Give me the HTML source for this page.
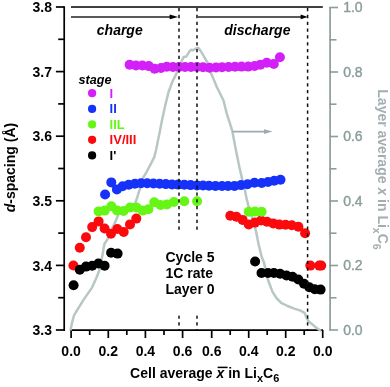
<!DOCTYPE html>
<html><head><meta charset="utf-8"><style>
html,body{margin:0;padding:0;background:#fff;width:390px;height:387px;overflow:hidden}
svg{display:block}
text{font-family:'Liberation Sans', Arial, Helvetica, sans-serif}
</style></head><body>
<svg width="390" height="387" viewBox="0 0 390 387">
<line x1="64.2" y1="6.2" x2="64.2" y2="330.9" stroke="#000" stroke-width="1.7"/>
<line x1="55.9" y1="7.0" x2="64.1" y2="7.0" stroke="#000" stroke-width="1.7"/>
<line x1="58.2" y1="39.3" x2="64.1" y2="39.3" stroke="#000" stroke-width="1.7"/>
<line x1="55.9" y1="71.6" x2="64.1" y2="71.6" stroke="#000" stroke-width="1.7"/>
<line x1="58.2" y1="103.9" x2="64.1" y2="103.9" stroke="#000" stroke-width="1.7"/>
<line x1="55.9" y1="136.2" x2="64.1" y2="136.2" stroke="#000" stroke-width="1.7"/>
<line x1="58.2" y1="168.5" x2="64.1" y2="168.5" stroke="#000" stroke-width="1.7"/>
<line x1="55.9" y1="200.8" x2="64.1" y2="200.8" stroke="#000" stroke-width="1.7"/>
<line x1="58.2" y1="233.1" x2="64.1" y2="233.1" stroke="#000" stroke-width="1.7"/>
<line x1="55.9" y1="265.4" x2="64.1" y2="265.4" stroke="#000" stroke-width="1.7"/>
<line x1="58.2" y1="297.7" x2="64.1" y2="297.7" stroke="#000" stroke-width="1.7"/>
<line x1="55.9" y1="330.0" x2="64.1" y2="330.0" stroke="#000" stroke-width="1.7"/>
<text transform="translate(52,12.10) scale(0.96,1)" text-anchor="end" font-size="14.6" font-weight="bold">3.8</text>
<text transform="translate(52,76.70) scale(0.96,1)" text-anchor="end" font-size="14.6" font-weight="bold">3.7</text>
<text transform="translate(52,141.30) scale(0.96,1)" text-anchor="end" font-size="14.6" font-weight="bold">3.6</text>
<text transform="translate(52,205.90) scale(0.96,1)" text-anchor="end" font-size="14.6" font-weight="bold">3.5</text>
<text transform="translate(52,270.50) scale(0.96,1)" text-anchor="end" font-size="14.6" font-weight="bold">3.4</text>
<text transform="translate(52,335.10) scale(0.96,1)" text-anchor="end" font-size="14.6" font-weight="bold">3.3</text>
<line x1="71" y1="7" x2="322.8" y2="7" stroke="#000" stroke-width="1.7"/>
<line x1="70" y1="330.2" x2="323" y2="330.2" stroke="#000" stroke-width="1.8"/>
<line x1="71.1" y1="330" x2="71.1" y2="338.0" stroke="#000" stroke-width="1.7"/>
<line x1="89.7" y1="330" x2="89.7" y2="335.0" stroke="#000" stroke-width="1.7"/>
<line x1="108.3" y1="330" x2="108.3" y2="338.0" stroke="#000" stroke-width="1.7"/>
<line x1="126.8" y1="330" x2="126.8" y2="335.0" stroke="#000" stroke-width="1.7"/>
<line x1="145.4" y1="330" x2="145.4" y2="338.0" stroke="#000" stroke-width="1.7"/>
<line x1="164.0" y1="330" x2="164.0" y2="335.0" stroke="#000" stroke-width="1.7"/>
<line x1="182.6" y1="330" x2="182.6" y2="338.0" stroke="#000" stroke-width="1.7"/>
<line x1="322.7" y1="330" x2="322.7" y2="338.0" stroke="#000" stroke-width="1.7"/>
<line x1="304.2" y1="330" x2="304.2" y2="335.0" stroke="#000" stroke-width="1.7"/>
<line x1="285.7" y1="330" x2="285.7" y2="338.0" stroke="#000" stroke-width="1.7"/>
<line x1="267.2" y1="330" x2="267.2" y2="335.0" stroke="#000" stroke-width="1.7"/>
<line x1="248.7" y1="330" x2="248.7" y2="338.0" stroke="#000" stroke-width="1.7"/>
<line x1="230.2" y1="330" x2="230.2" y2="335.0" stroke="#000" stroke-width="1.7"/>
<line x1="211.7" y1="330" x2="211.7" y2="338.0" stroke="#000" stroke-width="1.7"/>
<text transform="translate(71.10,356.30) scale(0.96,1)" text-anchor="middle" font-size="14.6" font-weight="bold">0.0</text>
<text transform="translate(322.70,356.30) scale(0.96,1)" text-anchor="middle" font-size="14.6" font-weight="bold">0.0</text>
<text transform="translate(108.26,356.30) scale(0.96,1)" text-anchor="middle" font-size="14.6" font-weight="bold">0.2</text>
<text transform="translate(285.70,356.30) scale(0.96,1)" text-anchor="middle" font-size="14.6" font-weight="bold">0.2</text>
<text transform="translate(145.42,356.30) scale(0.96,1)" text-anchor="middle" font-size="14.6" font-weight="bold">0.4</text>
<text transform="translate(248.70,356.30) scale(0.96,1)" text-anchor="middle" font-size="14.6" font-weight="bold">0.4</text>
<text transform="translate(182.58,356.30) scale(0.96,1)" text-anchor="middle" font-size="14.6" font-weight="bold">0.6</text>
<text transform="translate(211.70,356.30) scale(0.96,1)" text-anchor="middle" font-size="14.6" font-weight="bold">0.6</text>
<line x1="330.1" y1="6.9" x2="330.1" y2="330.8" stroke="#8e9c9c" stroke-width="1.7"/>
<line x1="329.3" y1="7.5" x2="338.0" y2="7.5" stroke="#8e9c9c" stroke-width="1.6"/>
<line x1="329.3" y1="39.8" x2="336.5" y2="39.8" stroke="#8e9c9c" stroke-width="1.6"/>
<line x1="329.3" y1="72.0" x2="338.0" y2="72.0" stroke="#8e9c9c" stroke-width="1.6"/>
<line x1="329.3" y1="104.2" x2="336.5" y2="104.2" stroke="#8e9c9c" stroke-width="1.6"/>
<line x1="329.3" y1="136.5" x2="338.0" y2="136.5" stroke="#8e9c9c" stroke-width="1.6"/>
<line x1="329.3" y1="168.8" x2="336.5" y2="168.8" stroke="#8e9c9c" stroke-width="1.6"/>
<line x1="329.3" y1="201.0" x2="338.0" y2="201.0" stroke="#8e9c9c" stroke-width="1.6"/>
<line x1="329.3" y1="233.2" x2="336.5" y2="233.2" stroke="#8e9c9c" stroke-width="1.6"/>
<line x1="329.3" y1="265.5" x2="338.0" y2="265.5" stroke="#8e9c9c" stroke-width="1.6"/>
<line x1="329.3" y1="297.8" x2="336.5" y2="297.8" stroke="#8e9c9c" stroke-width="1.6"/>
<line x1="329.3" y1="330.0" x2="338.0" y2="330.0" stroke="#8e9c9c" stroke-width="1.6"/>
<text x="343.2" y="12.4" font-size="14" fill="#8c9c9c" stroke="#8c9c9c" stroke-width="0.4">1.0</text>
<text x="343.2" y="76.9" font-size="14" fill="#8c9c9c" stroke="#8c9c9c" stroke-width="0.4">0.8</text>
<text x="343.2" y="141.4" font-size="14" fill="#8c9c9c" stroke="#8c9c9c" stroke-width="0.4">0.6</text>
<text x="343.2" y="205.9" font-size="14" fill="#8c9c9c" stroke="#8c9c9c" stroke-width="0.4">0.4</text>
<text x="343.2" y="270.4" font-size="14" fill="#8c9c9c" stroke="#8c9c9c" stroke-width="0.4">0.2</text>
<text x="343.2" y="334.9" font-size="14" fill="#8c9c9c" stroke="#8c9c9c" stroke-width="0.4">0.0</text>
<polyline fill="none" stroke="#b8c7c6" stroke-width="2.5" stroke-linejoin="round" points="70.4,330.5 72.0,322.9 73.9,315.7 76.0,312.0 83.2,300.4 92.0,287.6 96.3,278.0 99.3,270.5 101.8,258.5 102.9,253.0 103.7,247.6 104.5,243.8 107.6,239.1 110.8,231.5 114.5,223.6 117.6,216.6 119.2,212.8 127.0,208.0 135.2,203.5 137.7,195.8 139.7,189.4 142.4,179.2 146.5,172.0 150.7,164.1 154.3,157.0 156.1,149.8 157.9,140.7 160.0,130.7 162.0,120.3 164.0,111.0 165.6,103.9 168.5,92.3 172.4,81.6 176.3,73.9 179.2,66.5 181.7,61.0 183.8,56.9 186.4,56.4 188.9,52.3 191.0,49.7 193.0,50.3 195.6,48.7 198.2,47.7 200.2,50.3 202.8,54.4 205.3,59.0 207.4,62.5 209.2,69.0 212.1,75.8 215.0,82.6 216.7,86.8 223.4,100.2 226.8,113.6 231.2,127.3 232.4,131.6 235.5,148.0 239.4,167.2 242.5,180.6 244.6,188.1 246.3,197.4 248.4,205.6 255.6,229.3 258.7,244.8 261.8,257.2 264.0,262.5 267.6,278.8 270.0,285.2 272.4,291.6 276.4,298.0 281.2,302.8 287.6,306.0 294.2,308.6 300.4,310.6 304.6,312.9 306.0,316.4 308.4,321.2 312.4,324.4 316.4,327.9 319.6,330.0 321.2,330.8"/>
<line x1="232.4" y1="131.6" x2="266" y2="131.6" stroke="#9eaab2" stroke-width="1.6"/>
<polygon points="264,129.2 272.6,131.6 264,134" fill="#9eaab2"/>
<circle cx="73.4" cy="265.5" r="5.00" fill="#fa0a0c"/>
<circle cx="79.8" cy="247.8" r="5.00" fill="#fa0a0c"/>
<circle cx="86.0" cy="237.2" r="5.00" fill="#fa0a0c"/>
<circle cx="92.2" cy="227.1" r="5.00" fill="#fa0a0c"/>
<circle cx="98.6" cy="221.4" r="5.00" fill="#fa0a0c"/>
<circle cx="104.6" cy="228.5" r="5.00" fill="#fa0a0c"/>
<circle cx="111.0" cy="233.7" r="5.00" fill="#fa0a0c"/>
<circle cx="117.3" cy="229.0" r="5.00" fill="#fa0a0c"/>
<circle cx="123.7" cy="231.9" r="5.00" fill="#fa0a0c"/>
<circle cx="130.0" cy="224.4" r="5.00" fill="#fa0a0c"/>
<circle cx="136.3" cy="218.6" r="5.00" fill="#fa0a0c"/>
<circle cx="230.3" cy="215.8" r="5.00" fill="#fa0a0c"/>
<circle cx="236.4" cy="216.8" r="5.00" fill="#fa0a0c"/>
<circle cx="242.6" cy="219.9" r="5.00" fill="#fa0a0c"/>
<circle cx="248.7" cy="224.5" r="5.00" fill="#fa0a0c"/>
<circle cx="254.9" cy="222.6" r="5.00" fill="#fa0a0c"/>
<circle cx="261.0" cy="220.5" r="5.00" fill="#fa0a0c"/>
<circle cx="267.0" cy="221.8" r="5.00" fill="#fa0a0c"/>
<circle cx="273.2" cy="223.4" r="5.00" fill="#fa0a0c"/>
<circle cx="279.4" cy="224.6" r="5.00" fill="#fa0a0c"/>
<circle cx="285.6" cy="224.8" r="5.00" fill="#fa0a0c"/>
<circle cx="291.8" cy="225.3" r="5.00" fill="#fa0a0c"/>
<circle cx="298.4" cy="226.8" r="5.00" fill="#fa0a0c"/>
<circle cx="305.1" cy="233.2" r="5.00" fill="#fa0a0c"/>
<circle cx="310.3" cy="265.6" r="5.00" fill="#fa0a0c"/>
<circle cx="319.3" cy="265.6" r="5.00" fill="#fa0a0c"/>
<circle cx="321.2" cy="265.6" r="5.00" fill="#fa0a0c"/>
<circle cx="98.6" cy="211.4" r="5.00" fill="#66f616"/>
<circle cx="104.7" cy="210.6" r="5.00" fill="#66f616"/>
<circle cx="111.4" cy="206.3" r="5.00" fill="#66f616"/>
<circle cx="117.0" cy="210.4" r="5.00" fill="#66f616"/>
<circle cx="123.6" cy="211.0" r="5.00" fill="#66f616"/>
<circle cx="130.2" cy="207.4" r="5.00" fill="#66f616"/>
<circle cx="136.4" cy="207.4" r="5.00" fill="#66f616"/>
<circle cx="142.5" cy="210.6" r="5.00" fill="#66f616"/>
<circle cx="148.4" cy="209.2" r="5.00" fill="#66f616"/>
<circle cx="154.3" cy="202.2" r="5.00" fill="#66f616"/>
<circle cx="160.5" cy="205.0" r="5.00" fill="#66f616"/>
<circle cx="166.9" cy="204.4" r="5.00" fill="#66f616"/>
<circle cx="173.9" cy="202.0" r="5.00" fill="#66f616"/>
<circle cx="184.3" cy="201.2" r="5.00" fill="#66f616"/>
<circle cx="197.1" cy="201.3" r="5.00" fill="#66f616"/>
<circle cx="248.7" cy="211.7" r="5.00" fill="#66f616"/>
<circle cx="255.1" cy="211.6" r="5.00" fill="#66f616"/>
<circle cx="261.6" cy="211.7" r="5.00" fill="#66f616"/>
<circle cx="73.6" cy="285.3" r="5.00" fill="#000"/>
<circle cx="79.8" cy="269.7" r="5.00" fill="#000"/>
<circle cx="86.0" cy="266.6" r="5.00" fill="#000"/>
<circle cx="92.2" cy="265.8" r="5.00" fill="#000"/>
<circle cx="98.4" cy="263.5" r="5.00" fill="#000"/>
<circle cx="104.6" cy="265.8" r="5.00" fill="#000"/>
<circle cx="111.1" cy="252.7" r="5.00" fill="#000"/>
<circle cx="117.6" cy="253.6" r="5.00" fill="#000"/>
<circle cx="255.1" cy="261.5" r="5.00" fill="#000"/>
<circle cx="261.5" cy="273.0" r="5.00" fill="#000"/>
<circle cx="268.0" cy="273.0" r="5.00" fill="#000"/>
<circle cx="273.9" cy="273.0" r="5.00" fill="#000"/>
<circle cx="280.1" cy="273.7" r="5.00" fill="#000"/>
<circle cx="286.5" cy="275.5" r="5.00" fill="#000"/>
<circle cx="292.5" cy="276.8" r="5.00" fill="#000"/>
<circle cx="298.3" cy="279.5" r="5.00" fill="#000"/>
<circle cx="304.0" cy="283.8" r="5.00" fill="#000"/>
<circle cx="309.3" cy="287.3" r="5.00" fill="#000"/>
<circle cx="314.8" cy="289.2" r="5.00" fill="#000"/>
<circle cx="320.6" cy="289.6" r="5.00" fill="#000"/>
<circle cx="105.1" cy="194.5" r="5.00" fill="#1632f9"/>
<circle cx="111.3" cy="182.4" r="5.00" fill="#1632f9"/>
<circle cx="116.9" cy="189.4" r="5.00" fill="#1632f9"/>
<circle cx="122.6" cy="186.3" r="5.00" fill="#1632f9"/>
<circle cx="128.7" cy="184.7" r="5.00" fill="#1632f9"/>
<circle cx="134.9" cy="183.7" r="5.00" fill="#1632f9"/>
<circle cx="141.0" cy="183.3" r="5.00" fill="#1632f9"/>
<circle cx="147.2" cy="183.3" r="5.00" fill="#1632f9"/>
<circle cx="153.4" cy="183.5" r="5.00" fill="#1632f9"/>
<circle cx="159.6" cy="183.8" r="5.00" fill="#1632f9"/>
<circle cx="165.8" cy="184.1" r="5.00" fill="#1632f9"/>
<circle cx="172.0" cy="184.4" r="5.00" fill="#1632f9"/>
<circle cx="178.2" cy="184.6" r="5.00" fill="#1632f9"/>
<circle cx="184.4" cy="184.8" r="5.00" fill="#1632f9"/>
<circle cx="190.6" cy="185.1" r="5.00" fill="#1632f9"/>
<circle cx="197.0" cy="185.4" r="5.00" fill="#1632f9"/>
<circle cx="203.0" cy="185.5" r="5.00" fill="#1632f9"/>
<circle cx="209.0" cy="185.8" r="5.00" fill="#1632f9"/>
<circle cx="215.5" cy="185.9" r="5.00" fill="#1632f9"/>
<circle cx="222.0" cy="186.0" r="5.00" fill="#1632f9"/>
<circle cx="228.0" cy="186.0" r="5.00" fill="#1632f9"/>
<circle cx="234.5" cy="185.9" r="5.00" fill="#1632f9"/>
<circle cx="241.0" cy="185.1" r="5.00" fill="#1632f9"/>
<circle cx="247.5" cy="184.3" r="5.00" fill="#1632f9"/>
<circle cx="254.5" cy="182.8" r="5.00" fill="#1632f9"/>
<circle cx="261.7" cy="183.0" r="5.00" fill="#1632f9"/>
<circle cx="268.0" cy="182.0" r="5.00" fill="#1632f9"/>
<circle cx="274.2" cy="180.8" r="5.00" fill="#1632f9"/>
<circle cx="280.5" cy="179.7" r="5.00" fill="#1632f9"/>
<circle cx="129.6" cy="64.8" r="5.00" fill="#d31ff8"/>
<circle cx="136.0" cy="65.5" r="5.00" fill="#d31ff8"/>
<circle cx="142.4" cy="65.5" r="5.00" fill="#d31ff8"/>
<circle cx="148.8" cy="66.1" r="5.00" fill="#d31ff8"/>
<circle cx="154.6" cy="68.7" r="5.00" fill="#d31ff8"/>
<circle cx="161.0" cy="68.0" r="5.00" fill="#d31ff8"/>
<circle cx="166.8" cy="66.7" r="5.00" fill="#d31ff8"/>
<circle cx="173.0" cy="67.0" r="5.00" fill="#d31ff8"/>
<circle cx="179.0" cy="67.0" r="5.00" fill="#d31ff8"/>
<circle cx="185.0" cy="67.0" r="5.00" fill="#d31ff8"/>
<circle cx="191.0" cy="67.0" r="5.00" fill="#d31ff8"/>
<circle cx="197.0" cy="67.0" r="5.00" fill="#d31ff8"/>
<circle cx="203.0" cy="67.3" r="5.00" fill="#d31ff8"/>
<circle cx="209.5" cy="67.7" r="5.00" fill="#d31ff8"/>
<circle cx="216.0" cy="67.5" r="5.00" fill="#d31ff8"/>
<circle cx="222.0" cy="67.2" r="5.00" fill="#d31ff8"/>
<circle cx="228.5" cy="67.0" r="5.00" fill="#d31ff8"/>
<circle cx="235.0" cy="66.8" r="5.00" fill="#d31ff8"/>
<circle cx="241.5" cy="66.6" r="5.00" fill="#d31ff8"/>
<circle cx="248.2" cy="66.6" r="5.00" fill="#d31ff8"/>
<circle cx="254.6" cy="66.0" r="5.00" fill="#d31ff8"/>
<circle cx="260.4" cy="64.7" r="5.00" fill="#d31ff8"/>
<circle cx="266.8" cy="62.7" r="5.00" fill="#d31ff8"/>
<circle cx="273.8" cy="64.0" r="5.00" fill="#d31ff8"/>
<circle cx="279.9" cy="57.2" r="5.00" fill="#d31ff8"/>
<line x1="179.0" y1="8" x2="179.0" y2="330" stroke="#111" stroke-width="1.5" stroke-dasharray="3.3,3.53"/>
<line x1="197.0" y1="8" x2="197.0" y2="330" stroke="#111" stroke-width="1.5" stroke-dasharray="3.3,3.53"/>
<line x1="307.6" y1="8" x2="307.6" y2="330" stroke="#111" stroke-width="1.5" stroke-dasharray="3.3,3.53"/>
<rect x="160" y="231" width="60" height="84.5" fill="#fff"/>
<line x1="71" y1="16.9" x2="171" y2="16.9" stroke="#222" stroke-width="1.5"/>
<polygon points="169.6,14.6 178.2,16.9 169.6,19.2" fill="#000"/>
<line x1="198" y1="16.9" x2="301" y2="16.9" stroke="#222" stroke-width="1.5"/>
<polygon points="300.6,14.6 307.8,16.9 300.6,19.2" fill="#000"/>
<text x="96.8" y="35.2" font-size="14" font-weight="bold" font-style="italic">charge</text>
<text x="224.3" y="35.0" font-size="14" font-weight="bold" font-style="italic">discharge</text>
<text x="78.6" y="83.5" font-size="12.6" font-weight="bold" font-style="italic">stage</text>
<circle cx="92.1" cy="93.2" r="4.1" fill="#d31ff8"/>
<text x="109.6" y="97.7" font-size="13" font-weight="bold" fill="#d31ff8">I</text>
<circle cx="92.1" cy="108.9" r="4.1" fill="#1632f9"/>
<text x="109.6" y="113.4" font-size="13" font-weight="bold" fill="#1632f9">II</text>
<circle cx="92.1" cy="124.4" r="4.1" fill="#66f616"/>
<text x="109.6" y="128.9" font-size="13" font-weight="bold" fill="#66f616">IIL</text>
<circle cx="92.1" cy="139.8" r="4.1" fill="#fa0a0c"/>
<text x="109.6" y="144.3" font-size="13" font-weight="bold" fill="#fa0a0c">IV/III</text>
<circle cx="92.1" cy="155.4" r="4.1" fill="#000"/>
<text x="109.6" y="159.9" font-size="13" font-weight="bold" fill="#000">I'</text>
<text x="165.5" y="261.6" font-size="14" font-weight="bold">Cycle 5</text>
<text x="165.5" y="277.6" font-size="14" font-weight="bold">1C rate</text>
<text x="165.5" y="293.6" font-size="14" font-weight="bold">Layer 0</text>
<text transform="translate(14.8,212.3) rotate(-90)" font-size="14" font-weight="bold"><tspan font-style="italic">d</tspan>-spacing (Å)</text>
<text transform="translate(377.5,89.3) rotate(90)" font-size="14" font-weight="bold" fill="#a3afaf">Layer average <tspan font-style="italic">x</tspan> in Li<tspan font-size="10.5" dy="4.2">x</tspan><tspan dy="-4.2">C</tspan><tspan font-size="10.5" dy="4.2">6</tspan></text>
<line x1="217.6" y1="367.4" x2="227.6" y2="367.4" stroke="#000" stroke-width="1.5"/>
<text x="130.1" y="378.0" font-size="14" font-weight="bold">Cell average <tspan font-style="italic">x</tspan> in Li<tspan font-size="11" dy="4">x</tspan><tspan dy="-4">C</tspan><tspan font-size="11" dy="4">6</tspan></text>
</svg></body></html>
